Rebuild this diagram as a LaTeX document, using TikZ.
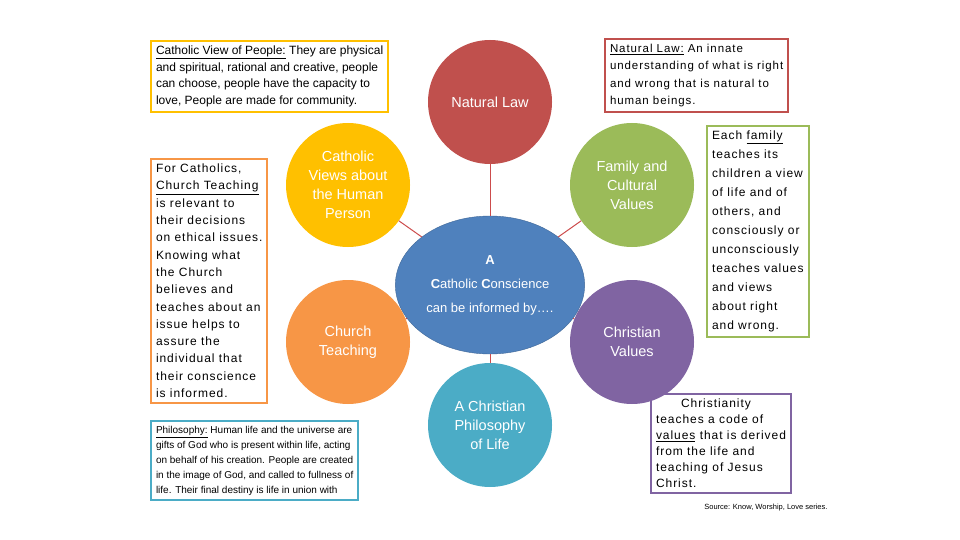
\documentclass[tikz,border=0pt]{standalone}
\usepackage{fontspec}
\setmainfont{Liberation Sans}
\usetikzlibrary{shapes.geometric}
\newcommand{\myul}[1]{\underline{#1}}
\begin{document}
\begin{tikzpicture}[x=1pt,y=-1pt,
 circ/.style={circle,minimum size=124pt,inner sep=0pt,text=white,align=center,font=\fontsize{14.5}{19}\selectfont},
 box/.style={draw,line width=2pt,anchor=north west,align=left,inner sep=5pt,font=\fontsize{12}{16.5}\selectfont},
 conn/.style={draw=red!50!pink!80!black,line width=1pt}]
\useasboundingbox (0,0) rectangle (960,540);
\definecolor{cR}{HTML}{C0504D}\definecolor{cG}{HTML}{9BBB59}\definecolor{cP}{HTML}{8064A2}
\definecolor{cB}{HTML}{4BACC6}\definecolor{cO}{HTML}{F79646}\definecolor{cY}{HTML}{FFC000}
\definecolor{cC}{HTML}{4F81BD}
\node[ellipse,minimum width=186pt,minimum height=138pt,fill=cC,draw=cC!80!black,text=white,align=center,font=\fontsize{13}{24}\selectfont] (c) at (490,285) {\textbf{A}\\\textbf{C}atholic \textbf{C}onscience\\can be informed by….};
\node[circ,fill=cR] (n1) at (490,102) {Natural Law};
\node[circ,fill=cG] (n2) at (632,185) {Family and\\Cultural\\Values};
\node[circ,fill=cP] (n3) at (632,342) {Christian\\Values};
\node[circ,fill=cB] (n4) at (490,425) {A Christian\\Philosophy\\of Life};
\node[circ,fill=cO] (n5) at (348,342) {Church\\Teaching};
\node[circ,fill=cY] (n6) at (348,185) {Catholic\\Views about\\the Human\\Person};
\foreach \n in {n1,n2,n3,n4,n5,n6}{\draw[conn] (c) -- (\n);}
\node[box,draw=cY] (b1) at (150,40) {\myul{Catholic View of People:} They are physical\\and spiritual, rational and creative, people\\can choose, people have the capacity to\\love, People are made for community.};
\node[box,draw=cR,font=\fontsize{11.5}{17.5}\selectfont\addfontfeature{LetterSpace=8}] (b2) at (604,38) {\myul{Natural Law:} An innate\\understanding of what is right\\and wrong that is natural to\\human beings.};
\node[box,draw=cG,font=\fontsize{12}{19}\selectfont\addfontfeature{LetterSpace=8}] (b3) at (706,125) {Each \myul{family}\\teaches its\\children a view\\of life and of\\others, and\\consciously or\\unconsciously\\teaches values\\and views\\about right\\and wrong.};
\node[box,draw=cO,font=\fontsize{12}{17.3}\selectfont\addfontfeature{LetterSpace=8}] (b4) at (150,158) {For Catholics,\\\myul{Church Teaching}\\is relevant to\\their decisions\\on ethical issues.\\Knowing what\\the Church\\believes and\\teaches about an\\issue helps to\\assure the\\individual that\\their conscience\\is informed.};
\node[box,draw=cB,font=\fontsize{10}{15}\selectfont] (b5) at (150,420) {\myul{Philosophy:} Human life and the universe are\\gifts of God who is present within life, acting\\on behalf of his creation. People are created\\in the image of God, and called to fullness of\\life. Their final destiny is life in union with};
\node[box,draw=cP,font=\fontsize{12}{16}\selectfont\addfontfeature{LetterSpace=8}] (b6) at (650,393) {\hspace*{25pt}Christianity\\teaches a code of\\\myul{values} that is derived\\from the life and\\teaching of Jesus\\Christ.};
\node[anchor=east,font=\fontsize{7.5}{9}\selectfont] (src) at (831,508) {Source: Know, Worship, Love series.};
\end{tikzpicture}
\end{document}
